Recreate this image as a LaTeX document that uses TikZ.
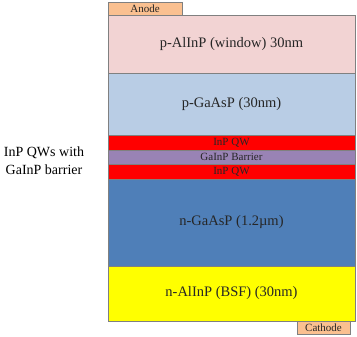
\documentclass[tikz,border=0pt]{standalone}
\usepackage{fontspec}
\setmainfont{Liberation Serif}
\usetikzlibrary{positioning}

\definecolor{windowpink}{HTML}{F2D3D3}
\definecolor{gaasplight}{HTML}{B9CDE5}
\definecolor{qwred}{HTML}{FF0000}
\definecolor{barrierpurple}{HTML}{9983B5}
\definecolor{gaaspdark}{HTML}{4F7FB8}
\definecolor{bsfyellow}{HTML}{FFFF00}
\definecolor{contactorange}{HTML}{FAC090}

\begin{document}
\begin{tikzpicture}[
    x=1pt, y=-1pt,
    node distance=0pt,
    layer/.style={rectangle, draw=black!50, line width=0.6pt, outer sep=0pt, inner sep=0pt, minimum width=247pt, text=black!85, font=\fontsize{14.5}{17}\selectfont},
    thin layer/.style={layer, font=\fontsize{11}{12}\selectfont},
    contact/.style={rectangle, draw=black!50, line width=0.6pt, fill=contactorange, outer sep=0pt, inner sep=0pt, minimum height=13pt, text=black!85, font=\fontsize{11}{12}\selectfont},
  ]
  \useasboundingbox (0,0) rectangle (357,337);

  % Layer stack
  \node[layer, fill=windowpink, minimum height=58pt, anchor=north west] (window) at (108,15) {p-AlInP (window) 30nm};
  \node[layer, fill=gaasplight, minimum height=62pt, below=of window] (pgaasp) {p-GaAsP (30nm)};
  \node[thin layer, fill=qwred, minimum height=15pt, below=of pgaasp] (qwtop) {InP QW};
  \node[thin layer, fill=barrierpurple, minimum height=14pt, below=of qwtop] (barrier) {GaInP Barrier};
  \node[thin layer, fill=qwred, minimum height=15pt, below=of barrier] (qwbottom) {InP QW};
  \node[layer, fill=gaaspdark, minimum height=87pt, below=of qwbottom] (ngaasp) {n-GaAsP (1.2\textmu m)};
  \node[layer, fill=bsfyellow, minimum height=55pt, below=of ngaasp] (bsf) {n-AlInP (BSF) (30nm)};

  % Contacts
  \node[contact, minimum width=74pt, anchor=south west] (anode) at (window.north west) {Anode};
  \node[contact, minimum width=53pt, anchor=north east, xshift=-5pt] (cathode) at (bsf.south east) {Cathode};

  % Side label
  \node[align=center, font=\fontsize{14}{18}\selectfont] (qwlabel) at (44,161) {InP QWs with\\GaInP barrier};
\end{tikzpicture}
\end{document}
